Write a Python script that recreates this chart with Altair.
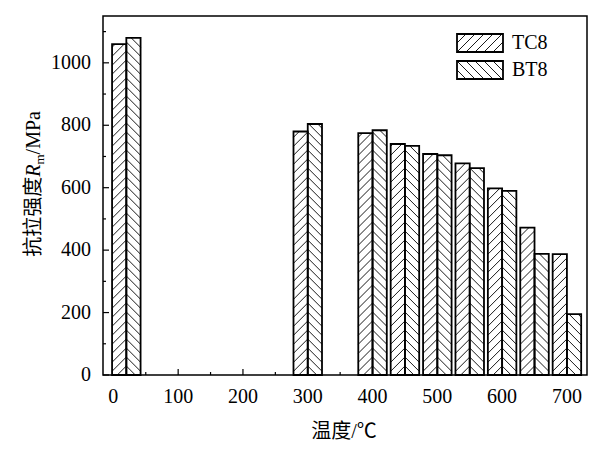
import altair as alt
import pandas as pd

# tensile strength vs temperature, two alloys
temps = [20, 300, 400, 450, 500, 550, 600, 650, 700]
tc8 = [1060, 780, 775, 740, 708, 678, 598, 472, 387]
bt8 = [1080, 804, 784, 734, 704, 663, 590, 388, 195]
alloys = ["TC8", "BT8"]

x_major = [0, 100, 200, 300, 400, 500, 600, 700]
x_minor = [50, 150, 250, 350, 450, 550, 650]
y_major = [0, 200, 400, 600, 800, 1000]
y_minor = [100, 300, 500, 700, 900, 1100]

W, H = 484, 359
X_DOM = [-16, 731]
Y_DOM = [0, 1150]
BAR_W = 22      # bar width in degrees
HATCH = 9       # px between hatch lines
SERIF = "Liberation Serif"
CJK = "Noto Sans CJK SC"
MIXED = f"{SERIF}, {CJK}"

ux = W / (X_DOM[1] - X_DOM[0])
uy = H / (Y_DOM[1] - Y_DOM[0])


def hatch_segments(x_mid, left_px, right_px, base, height_px, slope):
    """45-degree hatch lines inside a box, returned in data units."""
    segs = []
    for k in range(-12, 60):
        c = k * HATCH
        if slope > 0:
            lo, hi = max(left_px, -c), min(right_px, height_px - c)
        else:
            lo, hi = max(left_px, c - height_px), min(right_px, c)
        if hi - lo < 0.5:
            continue
        segs.append({
            "hx": x_mid + lo / ux, "hx2": x_mid + hi / ux,
            "hy": base + (slope * lo + c) / uy,
            "hy2": base + (slope * hi + c) / uy,
        })
    return segs


rows, hatch = [], []
for t, a, b in zip(temps, tc8, bt8):
    rows.append({"alloy": alloys[0], "x0": t - BAR_W, "x1": t, "val": a})
    rows.append({"alloy": alloys[1], "x0": t, "x1": t + BAR_W, "val": b})
    hatch += hatch_segments(t, -BAR_W * ux, 0, 0, a * uy, 1)
    hatch += hatch_segments(t, 0, BAR_W * ux, 0, b * uy, -1)
bars = pd.DataFrame(rows)

# legend boxes (view pixels) -> hatch in data units
LEG_X, LEG_W, LEG_H = 354, 46, 18
LEG_Y = [18, 45]
for ly, slope in zip(LEG_Y, [1, -1]):
    hatch += hatch_segments(X_DOM[0] + LEG_X / ux, 0, LEG_W,
                            Y_DOM[1] - (ly + LEG_H) / uy, LEG_H, slope)
hatch_df = pd.DataFrame(hatch)

xs = alt.Scale(domain=X_DOM, nice=False, zero=False)
ys = alt.Scale(domain=Y_DOM, nice=False)

base = alt.Chart(bars).encode(
    x=alt.X("x0:Q", scale=xs, axis=None),
    x2="x1:Q",
    y=alt.Y("val:Q", scale=ys, axis=None),
    y2=alt.datum(0),
)
fill = base.mark_rect(fill="white")
outline = base.mark_rect(fillOpacity=0, stroke="black", strokeWidth=1.8)

lines = alt.Chart(hatch_df).mark_rule(color="black", strokeWidth=0.9).encode(
    x=alt.X("hx:Q", scale=xs, axis=None), x2="hx2:Q",
    y=alt.Y("hy:Q", scale=ys, axis=None), y2="hy2:Q",
)


def yticks(vals, size):
    return alt.Chart(pd.DataFrame({"v": vals})).mark_rule(
        color="black", strokeWidth=1.2
    ).encode(y=alt.Y("v:Q", scale=ys, axis=None), x=alt.value(0), x2=alt.value(size))


def xticks(vals, size):
    return alt.Chart(pd.DataFrame({"v": vals})).mark_rule(
        color="black", strokeWidth=1.2
    ).encode(x=alt.X("v:Q", scale=xs, axis=None), y=alt.value(H), y2=alt.value(H - size))


# tick labels through the scales
ylabels = alt.Chart(pd.DataFrame({"v": y_major})).mark_text(
    font=SERIF, fontSize=20, color="black", align="right", baseline="middle"
).encode(y=alt.Y("v:Q", scale=ys, axis=None), x=alt.value(-12), text="v:Q")
xlabels = alt.Chart(pd.DataFrame({"v": x_major})).mark_text(
    font=SERIF, fontSize=20, color="black", align="center", baseline="middle"
).encode(x=alt.X("v:Q", scale=xs, axis=None), y=alt.value(H + 22), text="v:Q")


def label(text, x, y, font=SERIF, size=20, **kw):
    return alt.Chart(pd.DataFrame({"t": [text]})).mark_text(
        font=font, fontSize=size, color="black", **kw
    ).encode(x=alt.value(x), y=alt.value(y), text="t:N")


def legend_box(y):
    return alt.Chart(pd.DataFrame({"t": [0]})).mark_rect(
        fillOpacity=0, stroke="black", strokeWidth=1.8
    ).encode(x=alt.value(LEG_X), x2=alt.value(LEG_X + LEG_W),
             y=alt.value(y), y2=alt.value(y + LEG_H))


legend = [legend_box(LEG_Y[0]), legend_box(LEG_Y[1]),
          label(alloys[0], LEG_X + 55, LEG_Y[0] + LEG_H / 2, align="left", baseline="middle"),
          label(alloys[1], LEG_X + 55, LEG_Y[1] + LEG_H / 2, align="left", baseline="middle")]

# y title: 抗拉强度 R_m /MPa, built from pieces (rotated)
YT_X = -63
ytitle = [
    label("抗拉强度", YT_X, 240.7, font=CJK, angle=270, align="left", baseline="alphabetic"),
    label("R", YT_X, 160.7, fontStyle="italic", angle=270, align="left", baseline="alphabetic"),
    label("m", YT_X + 4, 148.5, size=13, angle=270, align="left", baseline="alphabetic"),
    label("/MPa", YT_X, 138.4, angle=270, align="left", baseline="alphabetic"),
]
xtitle = label("温度/℃", 241, 416, font=MIXED, align="center", baseline="middle")

chart = alt.layer(
    yticks(y_major, 6), yticks(y_minor, 3), xticks(x_major, 6), xticks(x_minor, 3),
    fill, lines, outline, ylabels, xlabels, *legend, *ytitle, xtitle,
).properties(
    width=W, height=H,
    autosize=alt.AutoSizeParams(type="none"),
    padding={"left": 95, "top": 8, "right": 2, "bottom": 69},
).configure_view(
    stroke="black", strokeWidth=1.5
)

chart.save("out.html", embed_options={"renderer": "svg", "actions": False})
